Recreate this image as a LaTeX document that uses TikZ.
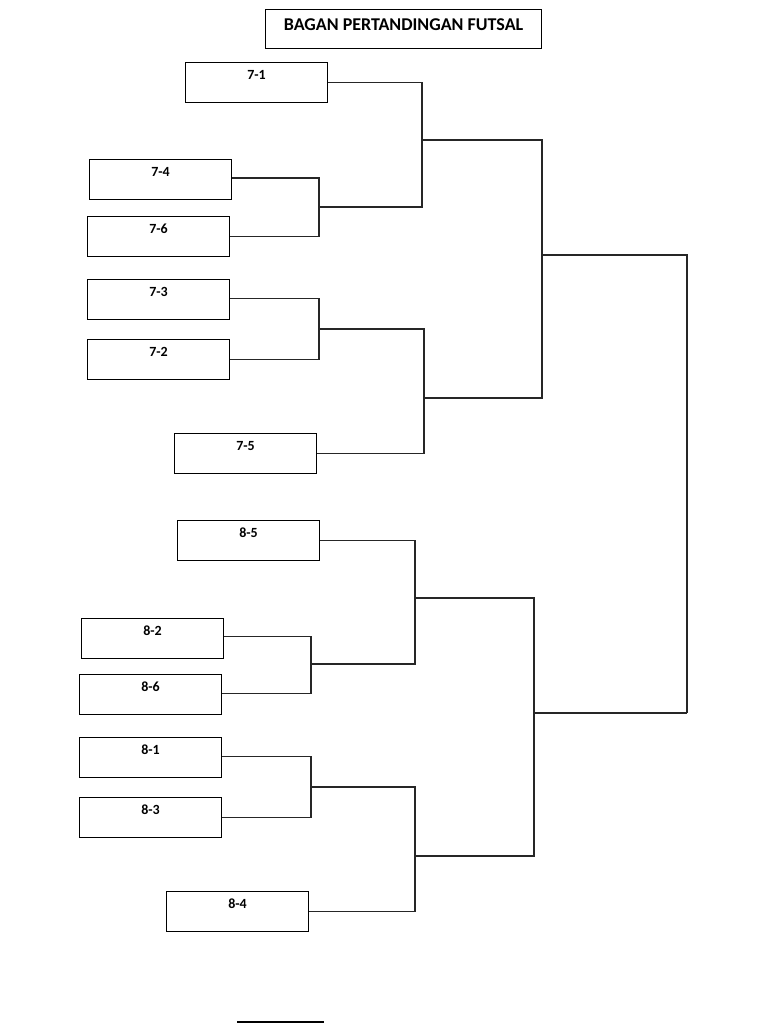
\documentclass[tikz,border=0pt]{standalone}
\usepackage{fontspec}
\setmainfont{Carlito}
\begin{document}
\begin{tikzpicture}[x=1pt,y=-1pt,
  team/.style={draw=black,line width=1.1pt,minimum width=142pt,minimum height=40pt,inner sep=0pt,anchor=north west},
  lbl/.style={font=\fontsize{14}{16}\selectfont\bfseries,anchor=north,inner sep=0pt},
  conn/.style={draw=black!85,line width=1.1pt}]
\useasboundingbox (0,0) rectangle (768,1024);
% title
\node[draw=black,line width=1.1pt,minimum width=276pt,minimum height=39pt,inner sep=0pt,anchor=north west] (title) at (265,9) {};
\node[font=\fontsize{18}{20}\selectfont\bfseries,anchor=north,inner sep=0pt] (titletext) at ([yshift=-9pt]title.north) {BAGAN PERTANDINGAN FUTSAL};
% boxes
\foreach \n/\x/\y in {71/185/62,74/89/159,76/87/216,73/87/279,72/87/339,75/174/433,
  85/177/520,82/81/618,86/79/674,81/79/737,83/79/797,84/166/891}{
  \node[team] (b\n) at (\x,\y) {};
}
\node[lbl] (l71) at ([yshift=-8pt]b71.north) {7-1};
\node[lbl] (l74) at ([yshift=-8pt]b74.north) {7-4};
\node[lbl] (l76) at ([yshift=-8pt]b76.north) {7-6};
\node[lbl] (l73) at ([yshift=-8pt]b73.north) {7-3};
\node[lbl] (l72) at ([yshift=-8pt]b72.north) {7-2};
\node[lbl] (l75) at ([yshift=-8pt]b75.north) {7-5};
\node[lbl] (l85) at ([yshift=-8pt]b85.north) {8-5};
\node[lbl] (l82) at ([yshift=-8pt]b82.north) {8-2};
\node[lbl] (l86) at ([yshift=-8pt]b86.north) {8-6};
\node[lbl] (l81) at ([yshift=-8pt]b81.north) {8-1};
\node[lbl] (l83) at ([yshift=-8pt]b83.north) {8-3};
\node[lbl] (l84) at ([yshift=-8pt]b84.north) {8-4};
% junction coordinates
\coordinate (j1) at (319,207);
\coordinate (j2) at (422,140);
\coordinate (j3) at (319,329);
\coordinate (j4) at (424,398);
\coordinate (j5) at (542,255);
\coordinate (j6) at (311,664);
\coordinate (j7) at (415,598);
\coordinate (j8) at (311,787);
\coordinate (j9) at (415,856);
\coordinate (j10) at (534,713);
\coordinate (fin) at (687,713);
% group 7
\draw[conn] ([yshift=1.5pt]b74.east) -| (j1) |- (b76.east);
\draw[conn] (b71.east) -| (j2) |- (j1);
\draw[conn] (j2) -| (j5);
\draw[conn] ([yshift=1pt]b73.east) -| (j3) |- (b72.east);
\draw[conn] (b75.east) -| (j4) |- (j3);
\draw[conn] (j4) -| (j5);
\draw[conn] (j5) -| (fin);
% group 8
\draw[conn] ([yshift=2pt]b82.east) -| (j6) |- ([yshift=1pt]b86.east);
\draw[conn] (b85.east) -| (j7) |- (j6);
\draw[conn] (j7) -| (j10);
\draw[conn] ([yshift=1pt]b81.east) -| (j8) |- (b83.east);
\draw[conn] (b84.east) -| (j9) |- (j8);
\draw[conn] (j9) -| (j10);
\draw[conn] (j10) -- (fin);
% small line at bottom
\draw[line width=1.2pt] (237,1022) -- (324,1022);
\end{tikzpicture}
\end{document}
